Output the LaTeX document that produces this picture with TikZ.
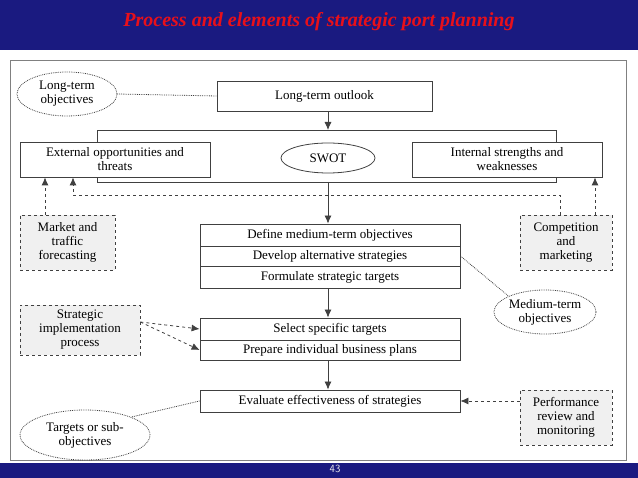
\documentclass[tikz,border=0pt]{standalone}
\usepackage{fontspec}
\setmainfont{Liberation Serif}
\usetikzlibrary{shapes.geometric,arrows.meta}
\definecolor{navy}{HTML}{1A1A80}
\definecolor{titlered}{HTML}{E8101A}
\definecolor{ln}{HTML}{404040}
\tikzset{
 fnt/.style={font=\fontsize{13}{14}\selectfont},
 box/.style={draw=ln,thick,minimum width=260pt,align=center,fnt,inner sep=0pt},
 sbox/.style={draw=ln,thick,align=center,fnt,inner sep=0pt},
 dbox/.style={draw=ln,thick,dashed,fill=gray!12,align=center,fnt,inner sep=0pt},
 ell/.style={draw=ln,thick,densely dotted,ellipse,align=center,fnt,inner sep=0pt},
 arr/.style={-{Latex[length=8pt,width=7pt]},thick,ln},
 darr/.style={-{Latex[length=8pt,width=7pt]},thick,ln,dashed},
 dot/.style={thick,ln,densely dotted}
}
\begin{document}
\begin{tikzpicture}[x=1pt,y=-1pt]
\useasboundingbox (0,0) rectangle (638,478);
\fill[navy] (0,0) rectangle (638,50);
\node[text=titlered,font=\fontsize{20}{22}\bfseries\itshape\selectfont] (title) at (319,22) {Process and elements of strategic port planning};
\fill[navy] (0,463) rectangle (638,478);
\node[text=white!85!gray,font=\sffamily\fontsize{11}{11}\selectfont] (pg) at (335,469) {43};
\draw[gray,thick] (10,60) rectangle (626,460);
% SWOT frame
\draw[ln,thick] (97,130) rectangle (556,182);
\node[sbox,fill=white,minimum width=215pt,minimum height=30pt] (lto) at (324.5,96) {Long-term outlook};
\node[sbox,fill=white,minimum width=190pt,minimum height=35pt] (ext) at (115,159.5) {External opportunities and\\threats};
\node[sbox,fill=white,minimum width=190pt,minimum height=35pt] (int) at (507,159.5) {Internal strengths and\\weaknesses};
\node[draw=ln,thick,ellipse,minimum width=94pt,minimum height=30pt,fnt,inner sep=0pt] (swot) at (328,158) {SWOT};
\coordinate (sb) at (328,182);
\coordinate (st) at (328,130);
\node[box,minimum height=22pt] (m1) at (330,235) {Define medium-term objectives};
\node[box,minimum height=20pt] (m2) at (330,256) {Develop alternative strategies};
\node[box,minimum height=22pt] (m3) at (330,277) {Formulate strategic targets};
\node[box,minimum height=22pt] (s1) at (330,329) {Select specific targets};
\node[box,minimum height=20pt] (s2) at (330,350) {Prepare individual business plans};
\node[box,minimum height=22pt] (ev) at (330,401) {Evaluate effectiveness of strategies};
\draw[arr] (lto.south -| st) -- (st);
\draw[arr] (sb) -- (m1.north -| sb);
\draw[arr] (m3.south -| sb) -- (s1.north -| sb);
\draw[arr] (s2.south -| sb) -- (ev.north -| sb);
% side boxes
\node[dbox,minimum width=95pt,minimum height=55pt] (mkt) at (67.5,242.5) {Market and\\traffic\\forecasting};
\node[dbox,minimum width=92pt,minimum height=55pt] (comp) at (566,242.5) {Competition\\and\\marketing};
\node[dbox,minimum width=120pt,minimum height=50pt] (sip) at (80,330) {Strategic\\implementation\\process};
\node[dbox,minimum width=92pt,minimum height=55pt] (perf) at (566,417.5) {Performance\\review and\\monitoring};
% ellipses
\node[ell,minimum width=100pt,minimum height=44pt] (lto2) at (67,94) {Long-term\\objectives};
\node[ell,minimum width=100pt,minimum height=44pt] (mto) at (545,312) {Medium-term\\objectives};
\node[ell,minimum width=130pt,minimum height=50pt] (tso) at (85,435) {Targets or sub-\\objectives};
\draw[dot] (lto2.east) -- (lto.west);
\draw[dot] (m2.east) -- (mto.north west);
\draw[dot] (ev.west) -- (tso.north east);
% dashed arrows
\draw[darr] (mkt.north -| 45,0) -- (ext.south -| 45,0);
\draw[darr] (comp.north -| 560,0) |- (73,195) -- (ext.south -| 73,0);
\draw[darr] (comp.north -| 595,0) -- (int.south -| 595,0);
\draw[darr] (sip.east) ++(0,-8) -- (s1.west);
\draw[darr] (sip.east) ++(0,-8) -- (s2.west);
\draw[darr] (perf.west |- ev) -- (ev.east);
\end{tikzpicture}
\end{document}
